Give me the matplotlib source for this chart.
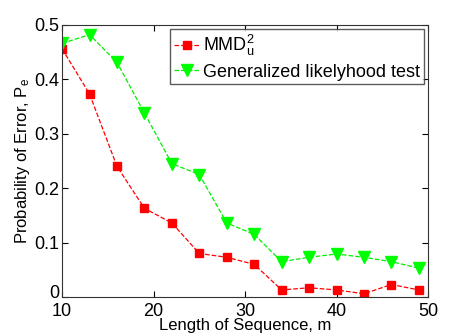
import matplotlib
matplotlib.use("Agg")
import matplotlib.pyplot as plt
import matplotlib.transforms as mtransforms

m = [10, 13, 16, 19, 22, 25, 28, 31, 34, 37, 40, 43, 46, 49]
mmd = [0.456, 0.373, 0.240, 0.163, 0.136, 0.080, 0.073, 0.060, 0.013, 0.017, 0.013, 0.006, 0.023, 0.013]
glt = [0.466, 0.482, 0.431, 0.338, 0.245, 0.225, 0.136, 0.115, 0.065, 0.073, 0.079, 0.073, 0.065, 0.053]
xticks = [10, 20, 30, 40, 50]
yticks = [0, 0.1, 0.2, 0.3, 0.4, 0.5]
yticklabels = ["0", "0.1", "0.2", "0.3", "0.4", "0.5"]

plt.rcParams['font.family'] = ['Liberation Sans', 'DejaVu Sans']
plt.rcParams['mathtext.fontset'] = 'custom'
plt.rcParams['mathtext.rm'] = 'Liberation Sans'
plt.rcParams['mathtext.it'] = 'Liberation Sans'

fig = plt.figure(figsize=(4.74, 3.36), dpi=100)
ax = fig.add_axes([0.131, 0.116, 0.772, 0.810])
ax.plot(m, mmd, '--s', color='#ff0000', markersize=6, linewidth=0.9,
        label=r'MMD$_\mathrm{u}^\mathrm{2}$')
ax.plot(m, glt, '--v', color='#00ee00', markerfacecolor='#00ff00', markeredgecolor='#00ff00',
        markersize=8, linewidth=0.9, label='Generalized likelyhood test')
ax.set_xlim(10, 50)
ax.set_ylim(0, 0.5)
ax.set_xticks(xticks)
ax.set_yticks(yticks)
ax.set_yticklabels(yticklabels)
ax.tick_params(direction='in', top=True, right=True, labelsize=13, length=4, pad=2)
ax.tick_params(axis='x', pad=4)
ax.set_xlabel('Length of Sequence, m', fontsize=12, labelpad=-1)
ax.set_ylabel(r'Probability of Error, P$_\mathrm{e}$', fontsize=12, labelpad=2)
# nudge the "0" y tick label up a little so it clears the "10" x tick label
zero_lbl = ax.get_yticklabels()[0]
zero_lbl.set_transform(zero_lbl.get_transform() +
                       mtransforms.ScaledTranslation(0, 4 / 72, fig.dpi_scale_trans))
for s in ax.spines.values():
    s.set_color('#333333')
leg = ax.legend(loc='upper right', fontsize=13, frameon=True, fancybox=False,
                edgecolor='#333333', handlelength=1.4, handletextpad=0.2,
                borderpad=0.2, labelspacing=0.3, borderaxespad=0.25)
leg.get_frame().set_linewidth(1.0)
fig.savefig('out.png', dpi=100)
